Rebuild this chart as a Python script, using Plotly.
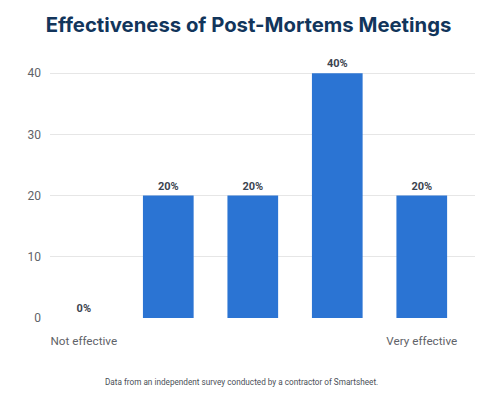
import plotly.graph_objects as go

# survey answers on a 1-5 scale, share of respondents (%)
positions = [0, 1, 2, 3, 4]
shares = [0, 20, 20, 40, 20]
bar_labels = ["0%", "20%", "20%", "40%", "20%"]
end_ticks = [0, 4]
end_labels = ["Not effective", "Very effective"]
y_ticks = [0, 10, 20, 30, 40]

fig = go.Figure()

fig.add_trace(go.Bar(
    x=positions,
    y=shares,
    width=0.6,
    text=bar_labels,
    textposition="outside",
    cliponaxis=False,
    textfont=dict(family="Roboto", size=11, color="#3c4450", weight="bold"),
    marker=dict(color="#2b74d3", line=dict(width=0)),
    showlegend=False,
))

fig.update_layout(
    width=500,
    height=408,
    paper_bgcolor="white",
    plot_bgcolor="white",
    margin=dict(l=50, r=25, t=61, b=90),
    title=dict(
        text="<b>Effectiveness of Post-Mortems Meetings</b>",
        x=0.497,
        xanchor="center",
        y=0.94,
        yanchor="middle",
        font=dict(family="Inter", size=20.3, color="#12355b"),
    ),
    xaxis=dict(
        range=[-0.40, 4.63],
        tickvals=end_ticks,
        ticktext=end_labels,
        showgrid=False,
        zeroline=False,
        showline=False,
        ticks="",
        ticklabelstandoff=14,
        tickfont=dict(family="Roboto", size=11.7, color="#5f6368"),
    ),
    yaxis=dict(
        range=[0, 42],
        tickvals=y_ticks,
        showgrid=True,
        gridcolor="#e6e6e6",
        gridwidth=1,
        zeroline=False,
        showline=False,
        ticklabelstandoff=8,
        tickfont=dict(family="Roboto", size=12, color="#5f6368"),
    ),
    annotations=[dict(
        text="Data from an independent survey conducted by a contractor of Smartsheet.",
        xref="paper",
        yref="paper",
        x=0.45,
        y=-0.25,
        xanchor="center",
        yanchor="middle",
        showarrow=False,
        font=dict(family="Roboto", size=8.2, color="#4a4f57"),
    )],
)

# drop the browser's default page margin so the figure sits at 0,0
fig.write_html("out.html", config={"displayModeBar": False},
               post_script="document.body.style.margin='0';")
